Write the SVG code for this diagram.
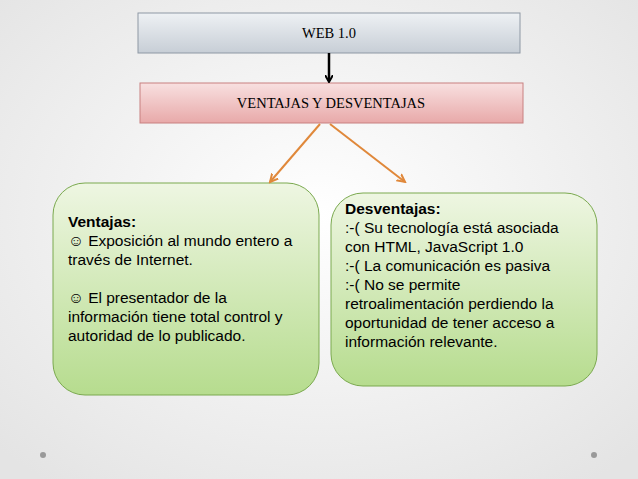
<svg xmlns="http://www.w3.org/2000/svg" width="638" height="479" viewBox="0 0 638 479">
<defs>
<radialGradient id="bg" cx="0.5" cy="0.45" r="0.7"><stop offset="0" stop-color="#ffffff"/><stop offset="1" stop-color="#e4e4e4"/></radialGradient>
<linearGradient id="gray" x1="0" y1="0" x2="0" y2="1"><stop offset="0" stop-color="#eef1f4"/><stop offset="1" stop-color="#c7ced6"/></linearGradient>
<linearGradient id="pink" x1="0" y1="0" x2="0" y2="1"><stop offset="0" stop-color="#f8e0e0"/><stop offset="1" stop-color="#e8a9a9"/></linearGradient>
<linearGradient id="green" x1="0" y1="0" x2="0" y2="1"><stop offset="0" stop-color="#eef6e2"/><stop offset="1" stop-color="#b6dc8e"/></linearGradient>
<marker id="ab" markerWidth="8" markerHeight="8" refX="6" refY="4" orient="auto" markerUnits="userSpaceOnUse"><path d="M0,0 L7,4 L0,8" fill="none" stroke="#000" stroke-width="2"/></marker>
<marker id="ao" markerWidth="10" markerHeight="10" refX="8" refY="5" orient="auto" markerUnits="userSpaceOnUse"><path d="M0,1 L8,5 L0,9" fill="none" stroke="#e0883a" stroke-width="2"/></marker>
</defs>
<style>
.t{font-family:"Liberation Serif",serif;font-size:14.5px;fill:#000}
.b{font-family:"Liberation Sans",Arial,sans-serif;font-size:15.5px;fill:#000}
.bb{font-weight:bold}
</style>
<rect width="638" height="479" fill="url(#bg)"/>
<g id="web"><rect x="138" y="13" width="382" height="40" fill="url(#gray)" stroke="#8e98a4"/><text class="t" x="329" y="38" text-anchor="middle">WEB 1.0</text></g>
<g id="vyd"><rect x="140" y="83" width="383" height="40" fill="url(#pink)" stroke="#c88080"/><text class="t" x="331" y="108" text-anchor="middle">VENTAJAS Y DESVENTAJAS</text></g>
<g id="ventajas"><rect x="53" y="183" width="266" height="212" rx="32" fill="url(#green)" stroke="#7aa94e"/>
<text class="b"><tspan class="bb" x="68" y="227">Ventajas:</tspan><tspan x="68" y="246">☺ Exposición al mundo entero a</tspan><tspan x="68" y="265">través de Internet.</tspan><tspan x="68" y="303">☺ El presentador de la</tspan><tspan x="68" y="322">información tiene total control y</tspan><tspan x="68" y="341">autoridad de lo publicado.</tspan></text></g>
<g id="desventajas"><rect x="331" y="193" width="266" height="193" rx="32" fill="url(#green)" stroke="#7aa94e"/>
<text class="b"><tspan class="bb" x="345" y="214">Desventajas:</tspan><tspan x="345" y="233">:-( Su tecnología está asociada</tspan><tspan x="345" y="252">con HTML, JavaScript 1.0</tspan><tspan x="345" y="271">:-( La comunicación es pasiva</tspan><tspan x="345" y="290">:-( No se permite</tspan><tspan x="345" y="309">retroalimentación perdiendo la</tspan><tspan x="345" y="328">oportunidad de tener acceso a</tspan><tspan x="345" y="347">información relevante.</tspan></text></g>
<g id="connectors">
<line x1="329" y1="53" x2="329" y2="81" stroke="#000" stroke-width="2.5" marker-end="url(#ab)"/>
<line x1="320" y1="124" x2="270" y2="182" stroke="#e0883a" stroke-width="2" marker-end="url(#ao)"/>
<line x1="330" y1="124" x2="405" y2="182" stroke="#e0883a" stroke-width="2" marker-end="url(#ao)"/>
</g>
<circle cx="43" cy="455" r="3" fill="#999"/><circle cx="594" cy="455" r="3" fill="#999"/>
</svg>
